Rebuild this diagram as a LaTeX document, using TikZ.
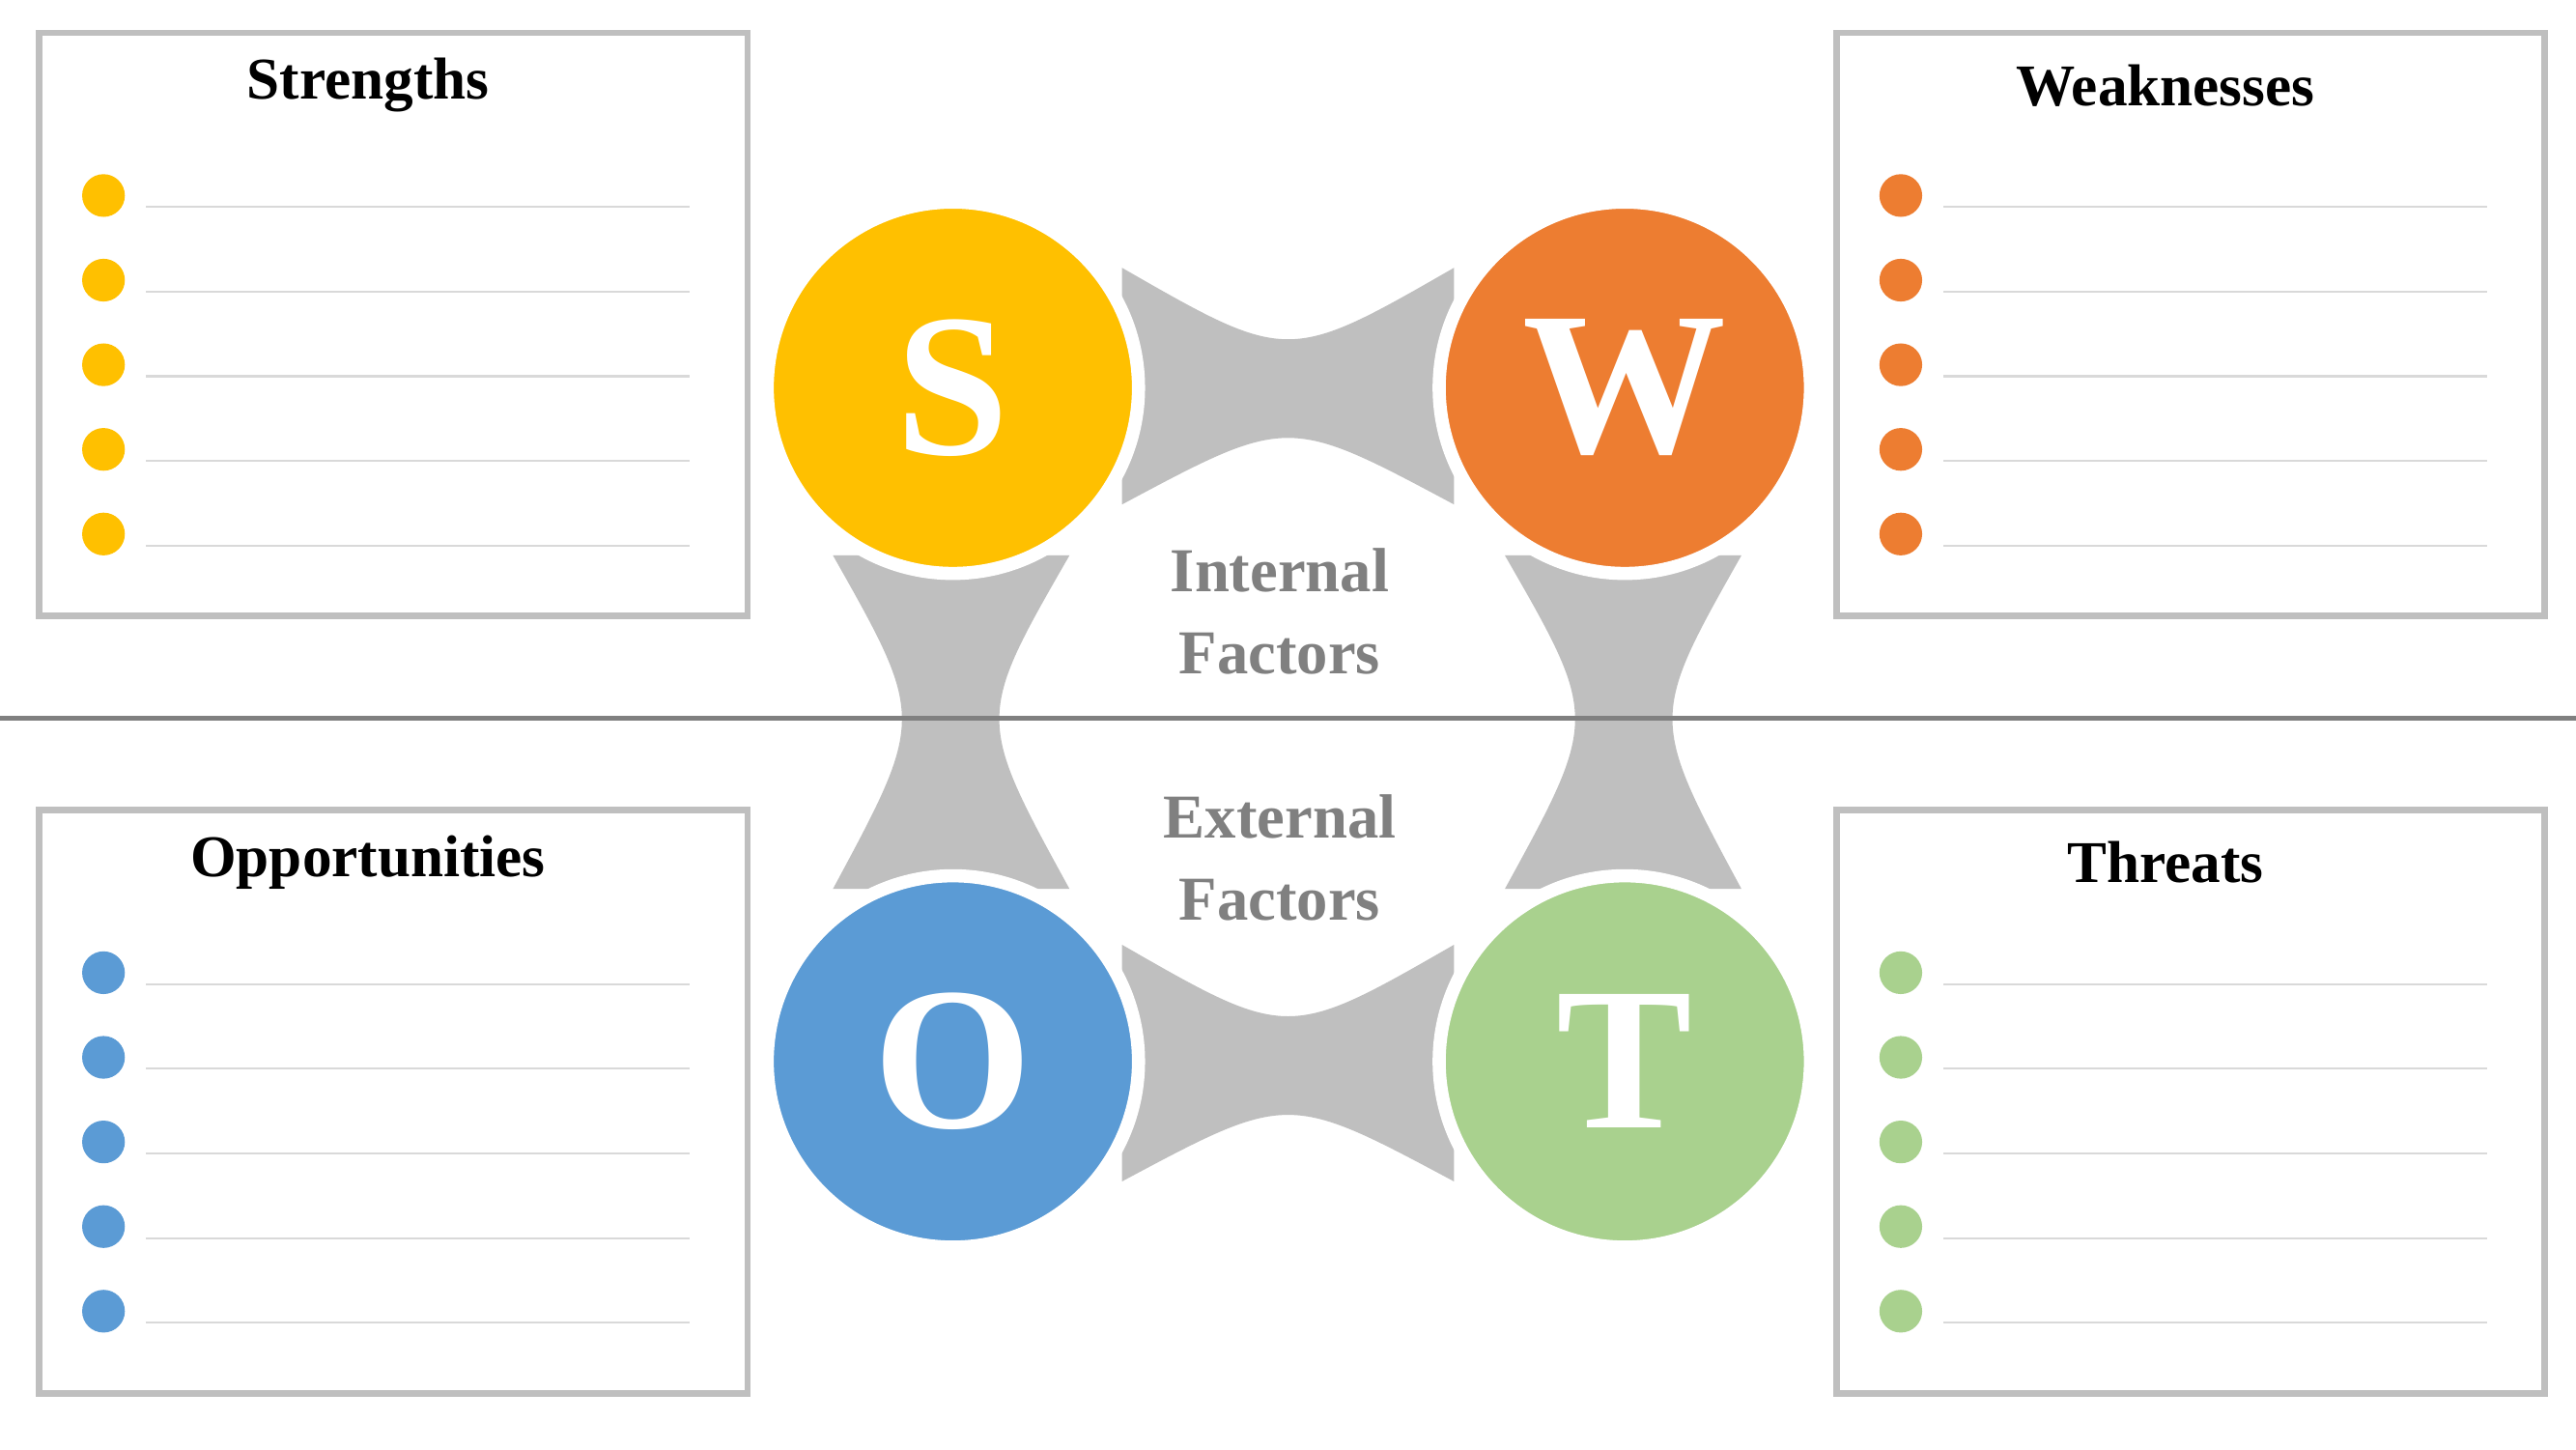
\documentclass[tikz,border=0pt]{standalone}
\usepackage{fontspec}
\setmainfont{Liberation Serif}
\definecolor{sY}{HTML}{FFC000}
\definecolor{sO}{HTML}{ED7D31}
\definecolor{sB}{HTML}{5B9BD5}
\definecolor{sG}{HTML}{A9D18E}
\definecolor{bord}{HTML}{BFBFBF}
\definecolor{dk}{HTML}{808080}
\begin{document}
\begin{tikzpicture}[x=0.5pt,y=-0.5pt,
  panel/.style={draw=bord,line width=2pt,fill=white},
  ttl/.style={font=\bfseries\fontsize{18}{20}\selectfont},
  big/.style={circle,minimum size=113pt,draw=white,line width=4pt,text=white,font=\bfseries\fontsize{62}{64}\selectfont},
  fac/.style={text=dk,align=center,font=\bfseries\fontsize{19}{25}\selectfont},
  rule/.style={draw=black!15,line width=0.6pt}]
\useasboundingbox (0,0) rectangle (1568,882);
\fill[white] (0,0) rectangle (1568,882);
% connectors
\fill[bord] (683,163) .. controls (784,221) .. (885,163) -- (885,307) .. controls (784,253) .. (683,307) -- cycle;
\fill[bord] (683,575) .. controls (784,633) .. (885,575) -- (885,719) .. controls (784,665) .. (683,719) -- cycle;
\fill[bord] (507,338) .. controls (563,437) .. (507,541) -- (651,541) .. controls (594,437) .. (651,338) -- cycle;
\fill[bord] (916,338) .. controls (973,437) .. (916,541) -- (1060,541) .. controls (1004,437) .. (1060,338) -- cycle;
\draw[dk,line width=1.5pt] (0,437) -- (1568,437);
\node[big,fill=sY] (S) at (580,236) {S};
\node[big,fill=sO] (W) at (989,236) {W};
\node[big,fill=sB] (O) at (580,646) {O};
\node[big,fill=sG] (T) at (989,646) {T};
\node[fac] (int) at (779,372) {Internal\\Factors};
\node[fac] (ext) at (779,522) {External\\Factors};
% panels
\foreach \nm/\x/\y/\col/\t in {ps/24/20/sY/Strengths,pw/1118/20/sO/Weaknesses,po/24/493/sB/Opportunities,pt/1118/493/sG/Threats}{
  \draw[panel] (\x,\y) rectangle ++(431,355);
  \node[ttl] (\nm) at (\x+200,\y+32) {\t};
  \foreach \i in {0,...,4}{
    \fill[\col] (\x+39,\y+99+51.5*\i) circle (13);
    \draw[rule] (\x+65,\y+106+51.5*\i) -- (\x+396,\y+106+51.5*\i);
  }
}
\end{tikzpicture}
\end{document}
